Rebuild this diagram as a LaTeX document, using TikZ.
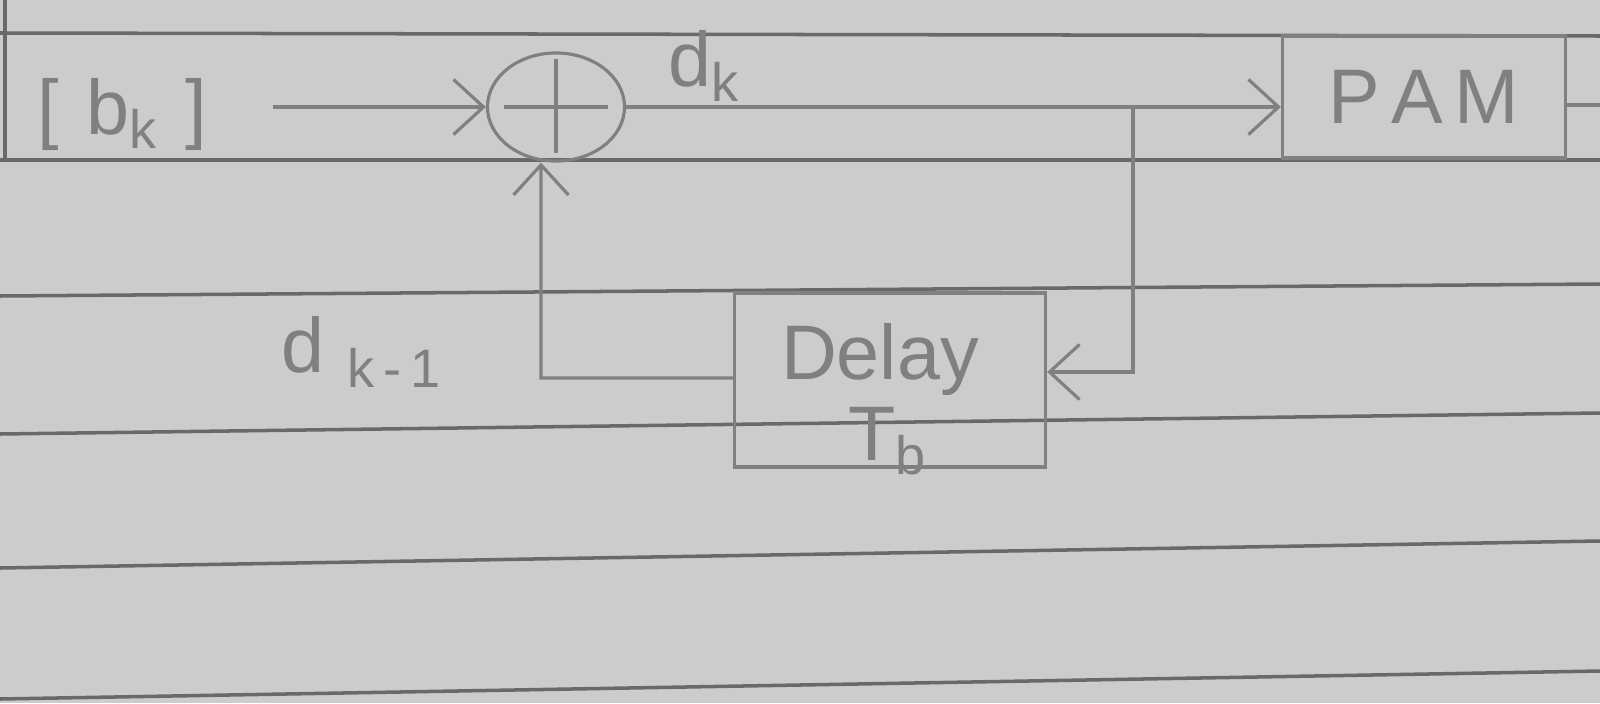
\documentclass[tikz,border=0pt]{standalone}
\usepackage{fontspec}
\setmainfont{Liberation Sans}
\usetikzlibrary{arrows.meta,shapes.geometric}
\definecolor{paper}{RGB}{204,204,204}
\definecolor{rule}{RGB}{105,105,105}
\definecolor{pencil}{RGB}{128,128,128}
\tikzset{
  ruled/.style={draw=rule,line width=1pt},
  pen/.style={draw=pencil,line width=0.9pt},
  penarrow/.style={pen,-{Straight Barb[length=3mm,width=5.5mm,line width=0.9pt]}},
  blockbox/.style={pen,rectangle,inner sep=0pt},
  hand/.style={text=pencil,font=\fontsize{22}{24}\selectfont},
}
\begin{document}
\begin{tikzpicture}[x=0.01cm,y=-0.01cm]
\fill[paper] (0,0) rectangle (1600,703);
\useasboundingbox (0,0) rectangle (1600,703);
% ruled lines of the paper
\draw[ruled] (0,33) -- (1600,36);
\draw[ruled] (0,160) -- (1600,160);
\draw[ruled] (0,296) -- (1600,284);
\draw[ruled] (0,434) -- (1600,413);
\draw[ruled] (0,568) -- (1600,541);
\draw[ruled] (0,699) -- (1600,671);
\draw[ruled] (5,0) -- (5,160);
% nodes
\node[hand] (bk) at (122,114) {[\hspace{0.35em}b\textsubscript{k}\hspace{0.35em}]};
\node[pen,ellipse,minimum width=1.37cm,minimum height=1.08cm,inner sep=0pt] (sum) at (556,107) {};
\draw[pen] ([xshift=-0.52cm]sum.center) -- ([xshift=0.52cm]sum.center);
\draw[pen] ([yshift=0.48cm]sum.center) -- ([yshift=-0.46cm]sum.center);
\node[blockbox,minimum width=2.83cm,minimum height=1.22cm,hand] (pam) at (1424,97) {P\hspace{0.15em}A\hspace{0.15em}M};
\node[blockbox,minimum width=3.11cm,minimum height=1.74cm] (delay) at (890,380) {};
\node[hand] (delaytxt) at (880,359) {Delay};
\node[hand] (tb) at (888,441) {T\textsubscript{b}};
\node[hand] (dk) at (704,66) {d\textsubscript{k}};
\node[hand] (dk1) at (362,352) {d\hspace{0.3em}\textsubscript{k\,-\,1}};
\coordinate (bkend) at (273,107);
\coordinate (branch) at (1133,107);
\coordinate (turn) at (1133,372);
\coordinate (out) at (1600,105);
\coordinate (up) at (541,378);
% connectors
\draw[penarrow] (bkend) -- (sum.west);
\draw[penarrow] (sum.east) -- (sum.east -| pam.west);
\draw[pen] (pam.east |- out) -- (out);
\draw[penarrow] (branch) -- (turn) -- (turn -| delay.east);
\draw[penarrow] (delay.west |- up) -- (up) -- ([xshift=-0.15cm]sum.south);
\end{tikzpicture}
\end{document}
